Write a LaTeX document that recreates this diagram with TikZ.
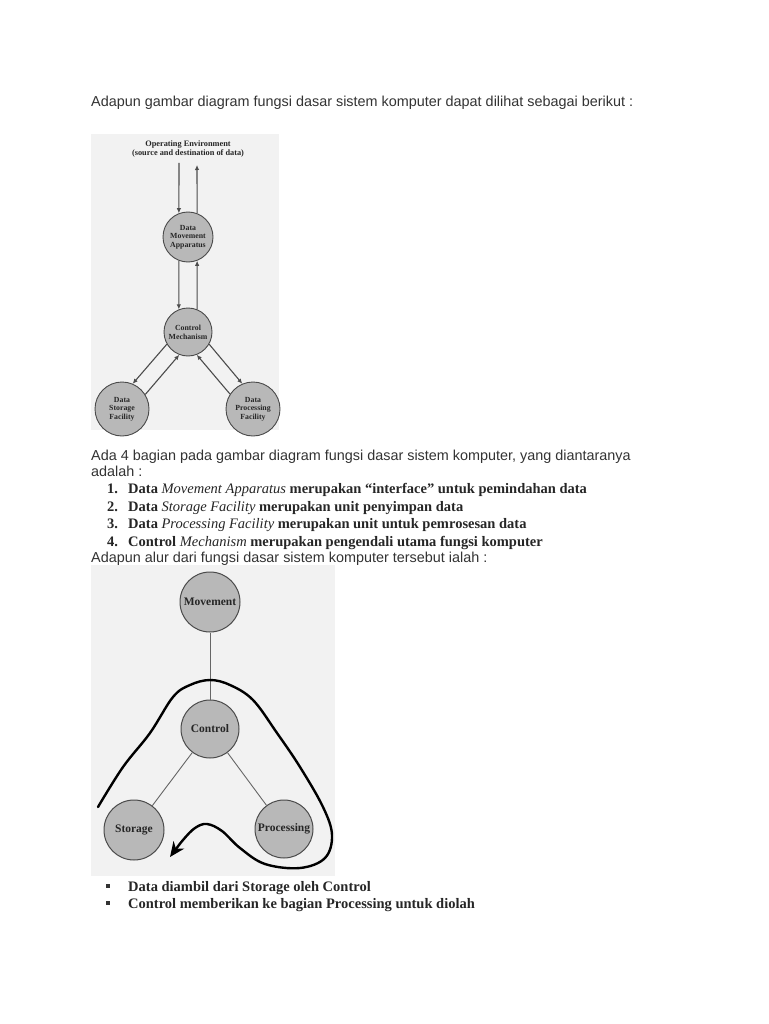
\documentclass[tikz,border=0pt]{standalone}
\usepackage{fontspec}
\setmainfont{Liberation Serif}
\newfontfamily\arialfont{Liberation Sans}
\usetikzlibrary{arrows.meta}

\definecolor{pagetext}{HTML}{333333}
\definecolor{figbg}{HTML}{F2F2F2}
\definecolor{bubble}{HTML}{B8B8B8}
\definecolor{rim}{HTML}{4A4A4A}

\tikzset{
  bodytext/.style={font=\arialfont\fontsize{14.4}{16}\selectfont, text=pagetext, inner sep=0pt, anchor=base west},
  listtext/.style={font=\bfseries\fontsize{14.5}{17}\selectfont, text=black!85, inner sep=0pt, anchor=base west},
  oldbubble/.style={circle, draw=rim, fill=bubble, line width=0.9pt, minimum size=50pt, inner sep=0pt, align=center, text=black!85, font=\bfseries\fontsize{7.8}{8.7}\selectfont},
  newbubble/.style={circle, draw=rim, fill=bubble, line width=1pt, minimum size=60pt, inner sep=0pt, text=black!85, font=\bfseries\fontsize{11.5}{13}\selectfont},
  flowarrow/.style={draw=black!70, line width=1.1pt, -{Latex[length=5pt,width=4.5pt]}},
  tieline/.style={draw=black!60, line width=0.9pt},
  routeline/.style={draw=black, line width=2.4pt, line cap=round, -{Stealth[length=15pt,width=13pt]}},
  squaredot/.style={fill=black!80, minimum size=3.5pt, inner sep=0pt}
}

\begin{document}
\begin{tikzpicture}[x=1pt, y=-1pt]
		%%%%% PAGE %%%%%
		\fill[white] (0,0) rectangle (768,1024);
		\useasboundingbox (0,0) rectangle (768,1024);
		
		\node[bodytext] (intro) at (91,107) {Adapun gambar diagram fungsi dasar sistem komputer dapat dilihat sebagai berikut :};
		
		%%%%% FIRST DIAGRAM %%%%%
		\fill[figbg] (91,134) rectangle (279,430);
		
		\node[align=center, text=black!85, font=\bfseries\fontsize{8.3}{9.3}\selectfont] (env) at (188,149) {Operating Environment\\(source and destination of data)};
		\coordinate (envin) at (179,163);
		\coordinate (envout) at (197,165);
		
		\node[oldbubble] (dma) at (188,237) {Data\\Movement\\Apparatus};
		\node[oldbubble, minimum size=48pt] (cm) at (188,332) {Control\\Mechanism};
		\node[oldbubble, minimum size=54pt] (dsf) at (122,409) {Data\\Storage\\Facility};
		\node[oldbubble, minimum size=54pt] (dpf) at (253,409) {Data\\Processing\\Facility};
		
		\draw[flowarrow] (envin) -- (dma.111);
		\draw[flowarrow] (dma.69) -- (envout);
		\draw[flowarrow] (dma.249) -- (cm.112);
		\draw[flowarrow] (cm.68) -- (dma.291);
		\draw[flowarrow] (cm.210) -- (dsf.67);
		\draw[flowarrow] (dsf.32) -- (cm.249);
		\draw[flowarrow] (cm.330) -- (dpf.113);
		\draw[flowarrow] (dpf.147) -- (cm.291);
		
		%%%%% LIST %%%%%
		\node[bodytext] (parts) at (91,460) {Ada 4 bagian pada gambar diagram fungsi dasar sistem komputer, yang diantaranya};
		\node[bodytext] (partsb) at (91,476) {adalah :};
		
		\node[listtext] (num1) at (107,493) {1.};
		\node[listtext] (item1) at (128,493) {Data {\normalfont\itshape Movement Apparatus} merupakan ``interface'' untuk pemindahan data};
		\node[listtext] (num2) at (107,511) {2.};
		\node[listtext] (item2) at (128,511) {Data {\normalfont\itshape Storage Facility} merupakan unit penyimpan data};
		\node[listtext] (num3) at (107,528) {3.};
		\node[listtext] (item3) at (128,528) {Data {\normalfont\itshape Processing Facility} merupakan unit untuk pemrosesan data};
		\node[listtext] (num4) at (107,546) {4.};
		\node[listtext] (item4) at (128,546) {Control {\normalfont\itshape Mechanism} merupakan pengendali utama fungsi komputer};
		
		\node[bodytext] (flow) at (91,562) {Adapun alur dari fungsi dasar sistem komputer tersebut ialah :};
		
		%%%%% SECOND DIAGRAM %%%%%
		\fill[figbg] (91,565) rectangle (335,876);
		
		\node[newbubble] (mov) at (210,602) {Movement};
		\node[newbubble, minimum size=58pt] (ctl) at (210,729) {Control};
		\node[newbubble] (sto) at (134,830) {Storage};
		\node[newbubble, minimum size=58pt] (pro) at (284,829) {Processing};
		
		\draw[tieline] (mov) -- (ctl);
		\draw[tieline] (ctl) -- (sto);
		\draw[tieline] (ctl) -- (pro);
		
		\draw[routeline] plot[smooth, tension=0.6] coordinates {(98,807) (123,767) (150,733) (173,697) (190,685) (210,680) (230,685) (253,700) (277,733) (300,767) (323,807) (332,835) (325,858) (300,868) (265,864) (240,848) (222,831) (207,824) (195,828) (183,840) (170,857)};
		
		%%%%% BULLETS %%%%%
		\node[squaredot] (dot1) at (108,886) {};
		\node[listtext] (step1) at (128,891) {Data diambil dari Storage oleh Control};
		\node[squaredot] (dot2) at (108,903) {};
		\node[listtext] (step2) at (128,908) {Control memberikan ke bagian Processing untuk diolah};
		
		%%%%% END %%%%%
	\end{tikzpicture}
\end{document}
